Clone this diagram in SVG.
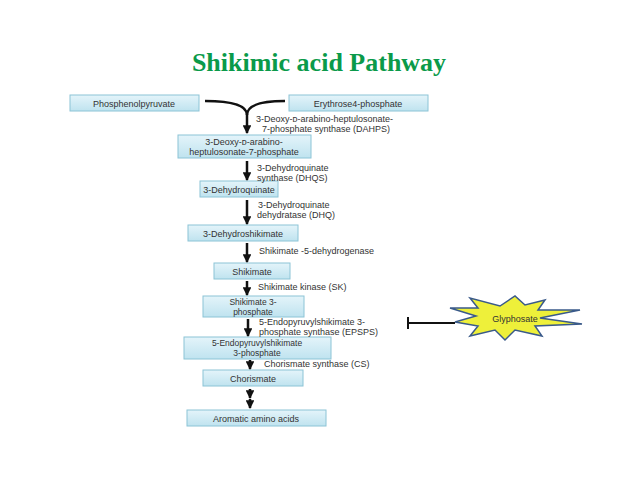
<svg xmlns="http://www.w3.org/2000/svg" width="638" height="478" viewBox="0 0 638 478">
<defs>
<linearGradient id="g" x1="0" y1="0" x2="0" y2="1"><stop offset="0" stop-color="#e4f4fa"/><stop offset="1" stop-color="#bfe3ef"/></linearGradient>
<marker id="ah" viewBox="0 0 10 10" refX="9" refY="5" markerWidth="3.5" markerHeight="3.5" orient="auto"><path d="M0,0 L10,5 L0,10 z" fill="#111"/></marker>
<style>
.b{fill:url(#g);stroke:#8cc4d6;stroke-width:1}
.t{font-family:"Liberation Sans",Arial,sans-serif;font-size:9px;fill:#333;text-anchor:middle}
.s{font-size:8.5px}
.l{font-family:"Liberation Sans",Arial,sans-serif;font-size:9px;fill:#333}
.a{stroke:#111;stroke-width:2.5;fill:none;marker-end:url(#ah)}
</style>
</defs>
<rect width="638" height="478" fill="#fff"/>
<text x="319" y="71" font-family="Liberation Serif,serif" font-size="26" font-weight="bold" fill="#0a9a4a" text-anchor="middle">Shikimic acid Pathway</text>
<g id="pep"><rect class="b" x="70" y="95" width="129" height="16"/><text class="t" x="134" y="106.5">Phosphenolpyruvate</text></g>
<g id="e4p"><rect class="b" x="289" y="95" width="139" height="16"/><text class="t" x="358" y="106.5">Erythrose4-phosphate</text></g>
<g id="dahp"><rect class="b" x="178" y="135" width="133" height="23"/><text class="t" x="244" y="145">3-Deoxy-ᴅ-arabino-</text><text class="t" x="244" y="155">heptulosonate-7-phosphate</text></g>
<g id="dhq"><rect class="b" x="200" y="181" width="78" height="16"/><text class="t" x="239" y="192.5">3-Dehydroquinate</text></g>
<g id="dhs"><rect class="b" x="188" y="225" width="110" height="16"/><text class="t" x="243" y="236.5">3-Dehydroshikimate</text></g>
<g id="shk"><rect class="b" x="214" y="263" width="76" height="16"/><text class="t" x="252" y="274.5">Shikimate</text></g>
<g id="s3p"><rect class="b" x="203" y="296" width="101" height="21"/><text class="t s" x="253" y="305">Shikimate 3-</text><text class="t s" x="253" y="314.5">phosphate</text></g>
<g id="epsp"><rect class="b" x="184" y="337" width="147" height="22"/><text class="t s" x="257" y="346">5-Endopyruvylshikimate</text><text class="t s" x="257" y="356">3-phosphate</text></g>
<g id="cho"><rect class="b" x="203" y="370" width="100" height="16"/><text class="t" x="253" y="381.5">Chorismate</text></g>
<g id="aro"><rect class="b" x="187" y="410" width="139" height="16"/><text class="t" x="256" y="421.5">Aromatic amino acids</text></g>
<g id="gly"><polygon points="450,308 478,308 470,298 500,306 515,296 525,305 545,300 538,310 580,310 540,318 582,324 535,326 542,336 515,330 505,340 495,330 470,336 478,326 455,322 476,316" fill="#eef03a" stroke="#3a5a8a" stroke-width="1.5"/><text class="t" x="515" y="322" font-size="9">Glyphosate</text></g>
<g id="connectors">
<path d="M205,101 Q247,101 247,115 Q247,101 285,101" stroke="#111" stroke-width="2.5" fill="none"/>
<line class="a" x1="247" y1="114" x2="247" y2="133"/>
<line class="a" x1="247" y1="161" x2="247" y2="180"/>
<line class="a" x1="247" y1="200" x2="247" y2="224"/>
<line class="a" x1="247" y1="243" x2="247" y2="262"/>
<line class="a" x1="247" y1="281" x2="247" y2="295"/>
<line class="a" x1="248" y1="319" x2="248" y2="336"/>
<line class="a" x1="250" y1="360" x2="250" y2="369"/>
<line class="a" x1="250" y1="389" x2="250" y2="398"/>
<line class="a" x1="250" y1="399" x2="250" y2="408"/>
<line x1="408" y1="323" x2="455" y2="323" stroke="#111" stroke-width="2"/>
<line x1="408" y1="317" x2="408" y2="329" stroke="#111" stroke-width="2"/>
</g>
<text class="l" x="256" y="122">3-Deoxy-ᴅ-arabino-heptulosonate-</text>
<text class="l" x="262" y="132">7-phosphate synthase (DAHPS)</text>
<text class="l" x="257" y="171">3-Dehydroquinate</text>
<text class="l" x="257" y="181">synthase (DHQS)</text>
<text class="l" x="258" y="208">3-Dehydroquinate</text>
<text class="l" x="257" y="218">dehydratase (DHQ)</text>
<text class="l" x="259" y="254">Shikimate -5-dehydrogenase</text>
<text class="l" x="258" y="290">Shikimate kinase (SK)</text>
<text class="l" x="259" y="325">5-Endopyruvylshikimate 3-</text>
<text class="l" x="259" y="335">phosphate synthase (EPSPS)</text>
<text class="l" x="264" y="367">Chorismate synthase (CS)</text>
</svg>
